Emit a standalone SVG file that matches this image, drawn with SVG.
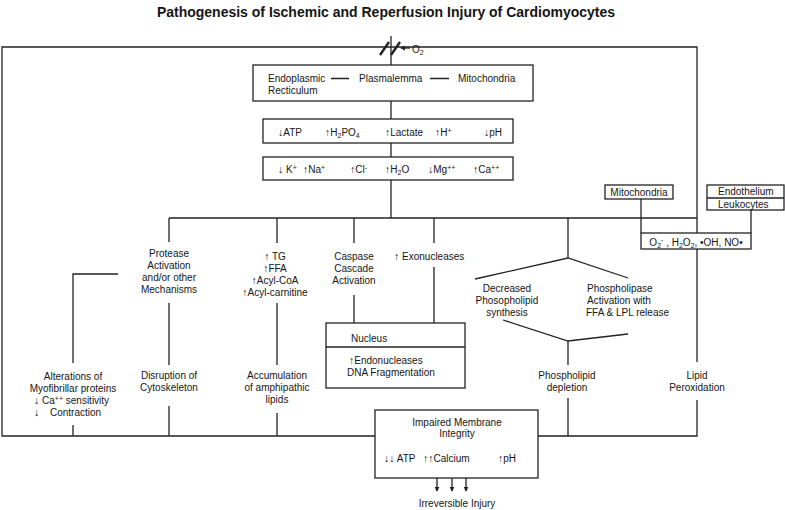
<svg xmlns="http://www.w3.org/2000/svg" width="785" height="510" viewBox="0 0 785 510">
<defs>
<style>
text{font-family:"Liberation Sans",Arial,Helvetica,sans-serif;font-size:10px;fill:#151515}
.m{text-anchor:middle}
.ttl{font-size:14px;font-weight:bold}
.box{fill:#fff;stroke:#222;stroke-width:1.3}
.ln{fill:none;stroke:#222;stroke-width:1.3}
.sl{fill:none;stroke:#222;stroke-width:2.4}
.ar{font-size:10.5px}
.sup{font-size:7px}
</style>
<marker id="ah" viewBox="0 0 6 6" refX="5" refY="3" markerWidth="5" markerHeight="5" orient="auto" markerUnits="userSpaceOnUse">
<path d="M0,0 L6,3 L0,6 z" fill="#222"/>
</marker>
</defs>
<rect width="785" height="510" fill="#fff"/>
<text id="title" class="m ttl" x="386" y="17">Pathogenesis of Ischemic and Reperfusion Injury of Cardiomyocytes</text>

<g id="connectors">
<path class="ln" d="M391,36 V65"/>
<path class="sl" d="M380,55 L389,42 M391,55 L400,42"/>
<path class="ln" d="M410,48 H401" marker-end="url(#ah)" stroke-width="1"/>
<path class="ln" d="M375,436 H2 V47 H697 V233 M697,249 V362 M697,400 V436 H538"/>
<path class="ln" d="M391,101 V119 M391,143 V157 M391,180 V218"/>
<path class="ln" d="M169,218 H697"/>
<path class="ln" d="M169,218 V242 M277,218 V243 M354,218 V243 M434,218 V243 M568,218 V258"/>
<path class="ln" d="M641,199 V233 M751,210 V233"/>
<path class="ln" d="M169,303 V365 M169,406 V436"/>
<path class="ln" d="M118,274 H73 V363 M73,425 V436"/>
<path class="ln" d="M277,303 V365 M277,413 V436"/>
<path class="ln" d="M354,295 V323 M434,267 V323"/>
<path class="ln" d="M475,279 L568,258 L628,278 M503,320 L568,341 L628,334"/>
<path class="ln" d="M568,341 V365 M568,398 V436"/>
<path class="ln" d="M437,478 V491" stroke-width="1" marker-end="url(#ah)"/>
<path class="ln" d="M452,478 V491" stroke-width="1" marker-end="url(#ah)"/>
<path class="ln" d="M466,478 V491" stroke-width="1" marker-end="url(#ah)"/>
</g>

<g id="o2-label">
<text x="412" y="53">O<tspan class="sup" dy="2">2</tspan></text>
</g>

<g id="membranes">
<rect class="box" x="253" y="65" width="280" height="36"/>
<text x="268" y="82">Endoplasmic</text>
<text x="268" y="94">Recticulum</text>
<path class="ln" d="M331,78.5 H349 M430,78.5 H449" stroke-width="1.2"/>
<text x="359" y="82">Plasmalemma</text>
<text x="458" y="82">Mitochondria</text>
</g>

<g id="metabolites">
<rect class="box" x="263" y="119" width="250" height="24"/>
<text x="278" y="136"><tspan class="ar">↓</tspan>ATP</text>
<text x="325" y="136"><tspan class="ar">↑</tspan>H<tspan class="sup" dy="2">2</tspan><tspan dy="-2">PO</tspan><tspan class="sup" dy="2">4</tspan></text>
<text x="385" y="136"><tspan class="ar">↑</tspan>Lactate</text>
<text x="435" y="136"><tspan class="ar">↑</tspan>H<tspan class="sup" dy="-3">+</tspan></text>
<text x="484" y="136"><tspan class="ar">↓</tspan>pH</text>
</g>

<g id="ions">
<rect class="box" x="263" y="157" width="250" height="23"/>
<text x="278" y="173"><tspan class="ar">↓</tspan> K<tspan class="sup" dy="-3">+</tspan></text>
<text x="303" y="173"><tspan class="ar">↑</tspan>Na<tspan class="sup" dy="-3">+</tspan></text>
<text x="350" y="173"><tspan class="ar">↑</tspan>Cl<tspan class="sup" dy="-3">-</tspan></text>
<text x="385" y="173"><tspan class="ar">↑</tspan>H<tspan class="sup" dy="2">2</tspan><tspan dy="-2">O</tspan></text>
<text x="428" y="173"><tspan class="ar">↓</tspan>Mg<tspan class="sup" dy="-3">++</tspan></text>
<text x="473" y="173"><tspan class="ar">↑</tspan>Ca<tspan class="sup" dy="-3">++</tspan></text>
</g>

<g id="mitochondria">
<rect class="box" x="605" y="185" width="68" height="14"/>
<text class="m" x="639" y="196">Mitochondria</text>
</g>

<g id="endothelium">
<rect class="box" x="707" y="185" width="77" height="25"/>
<path class="ln" d="M707,198 H784"/>
<text x="718" y="195">Endothelium</text>
<text x="718" y="208">Leukocytes</text>
</g>

<g id="radicals">
<rect class="box" x="641" y="233" width="110" height="16"/>
<text class="m" x="696" y="246">O<tspan class="sup" dy="2">2</tspan><tspan class="sup" dy="-6">-</tspan><tspan dy="4"> , H</tspan><tspan class="sup" dy="2">2</tspan><tspan dy="-2">O</tspan><tspan class="sup" dy="2">2</tspan><tspan dy="-2">, •OH, NO•</tspan></text>
</g>

<g id="protease">
<text class="m" x="169" y="257">Protease</text>
<text class="m" x="169" y="269">Activation</text>
<text class="m" x="169" y="281">and/or other</text>
<text class="m" x="169" y="293">Mechanisms</text>
</g>

<g id="lipids">
<text class="m" x="275" y="260"><tspan class="ar">↑</tspan> TG</text>
<text class="m" x="275" y="272"><tspan class="ar">↑</tspan>FFA</text>
<text class="m" x="275" y="284"><tspan class="ar">↑</tspan>Acyl-CoA</text>
<text class="m" x="275" y="296"><tspan class="ar">↑</tspan>Acyl-carnitine</text>
</g>

<g id="caspase">
<text class="m" x="354" y="260">Caspase</text>
<text class="m" x="354" y="272">Cascade</text>
<text class="m" x="354" y="284">Activation</text>
</g>

<g id="exonucleases">
<text x="394" y="260"><tspan class="ar">↑</tspan> Exonucleases</text>
</g>

<g id="nucleus">
<rect class="box" x="326" y="323" width="139" height="65"/>
<path class="ln" d="M326,347 H465"/>
<text x="351" y="342">Nucleus</text>
<text x="349" y="364"><tspan class="ar">↑</tspan>Endonucleases</text>
<text x="347" y="376">DNA Fragmentation</text>
</g>

<g id="decreased-synthesis">
<text class="m" x="507" y="292">Decreased</text>
<text class="m" x="507" y="304">Phosopholipid</text>
<text class="m" x="507" y="316">synthesis</text>
</g>

<g id="phospholipase">
<text x="587" y="292">Phospholipase</text>
<text x="587" y="304">Activation with</text>
<text x="586" y="316">FFA &amp; LPL release</text>
</g>

<g id="myofibrillar">
<text class="m" x="73" y="380">Alterations of</text>
<text class="m" x="73" y="392">Myofibrillar proteins</text>
<text x="34" y="404"><tspan class="ar">↓</tspan> Ca<tspan class="sup" dy="-3">++</tspan><tspan dy="3"> sensitivity</tspan></text>
<text x="34" y="416"><tspan class="ar">↓</tspan></text>
<text x="50" y="416">Contraction</text>
</g>

<g id="cytoskeleton">
<text class="m" x="169" y="379">Disruption of</text>
<text class="m" x="169" y="391">Cytoskeleton</text>
</g>

<g id="amphipathic">
<text class="m" x="277" y="379">Accumulation</text>
<text class="m" x="277" y="391">of amphipathic</text>
<text class="m" x="277" y="403">lipids</text>
</g>

<g id="depletion">
<text class="m" x="567" y="379">Phospholipid</text>
<text class="m" x="567" y="391">depletion</text>
</g>

<g id="peroxidation">
<text class="m" x="697" y="379">Lipid</text>
<text class="m" x="697" y="391">Peroxidation</text>
</g>

<g id="membrane-integrity">
<rect class="box" x="375" y="410" width="163" height="68"/>
<text class="m" x="457" y="426">Impaired Membrane</text>
<text class="m" x="457" y="437">Integrity</text>
<text x="384" y="462"><tspan class="ar">↓↓</tspan> ATP</text>
<text x="423" y="462"><tspan class="ar">↑↑</tspan>Calcium</text>
<text x="498" y="462"><tspan class="ar">↑</tspan>pH</text>
</g>

<g id="irreversible">
<text class="m" x="457" y="507">Irreversible Injury</text>
</g>
</svg>
